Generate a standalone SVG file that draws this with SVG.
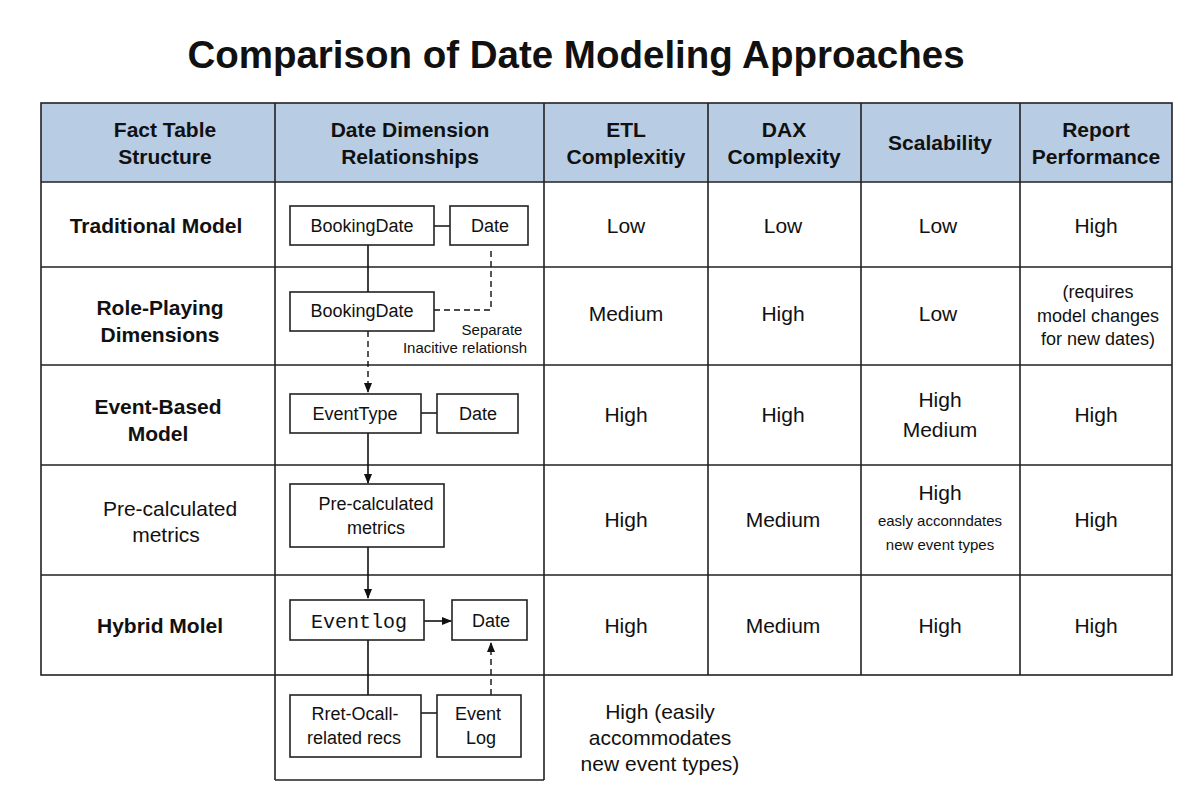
<svg xmlns="http://www.w3.org/2000/svg" width="1200" height="800" viewBox="0 0 1200 800">
<defs>
<marker id="ah" markerWidth="10" markerHeight="10" refX="9" refY="5" orient="auto" markerUnits="userSpaceOnUse"><path d="M0,1 L10,5 L0,9 z" fill="#111"/></marker>
<style>
text{font-family:"Liberation Sans",Arial,sans-serif;fill:#111;text-anchor:middle}
.t{font-size:38.5px;font-weight:bold}
.h{font-size:21px;font-weight:bold}
.rl{font-size:21px;font-weight:bold}
.rn{font-size:21px}
.c{font-size:21px}
.b{font-size:18px}
.s{font-size:15px}
.m{font-family:"Liberation Mono",monospace;font-size:20px}
.g{stroke:#222;stroke-width:1.6;fill:none}
.box{fill:#fff;stroke:#222;stroke-width:1.6}
.ln{stroke:#111;stroke-width:1.6;fill:none}
.d{stroke:#111;stroke-width:1.4;fill:none;stroke-dasharray:6,4}
</style>
</defs>
<rect width="1200" height="800" fill="#fff"/>
<text class="t" x="576" y="68">Comparison of Date Modeling Approaches</text>
<g id="table">
<rect x="41" y="103" width="1131" height="79" fill="#b8cde4"/>
<rect x="41" y="103" width="1131" height="572" class="g"/>
<path class="g" d="M41,182H1172M41,267H1172M41,365H1172M41,465H1172M41,575H1172M275,103V780M544,103V780M708,103V675M861,103V675M1020,103V675M275,780H544"/>
</g>
<g id="headers">
<text class="h" x="165" y="137">Fact Table</text><text class="h" x="165" y="164">Structure</text>
<text class="h" x="410" y="137">Date Dimension</text><text class="h" x="410" y="164">Relationships</text>
<text class="h" x="626" y="137">ETL</text><text class="h" x="626" y="164">Complexitiy</text>
<text class="h" x="784" y="137">DAX</text><text class="h" x="784" y="164">Complexity</text>
<text class="h" x="940" y="150">Scalability</text>
<text class="h" x="1096" y="137">Report</text><text class="h" x="1096" y="164">Performance</text>
</g>
<g id="rowlabels">
<text class="rl" x="156" y="233">Traditional Model</text>
<text class="rl" x="160" y="315">Role-Playing</text><text class="rl" x="160" y="342">Dimensions</text>
<text class="rl" x="158" y="414">Event-Based</text><text class="rl" x="158" y="441">Model</text>
<text class="rn" x="170" y="516">Pre-calculated</text><text class="rn" x="166" y="542">metrics</text>
<text class="rl" x="160" y="633">Hybrid Molel</text>
</g>
<g id="cells">
<text class="c" x="626" y="233">Low</text><text class="c" x="783" y="233">Low</text><text class="c" x="938" y="233">Low</text><text class="c" x="1096" y="233">High</text>
<text class="c" x="626" y="321">Medium</text><text class="c" x="783" y="321">High</text><text class="c" x="938" y="321">Low</text>
<text class="b" x="1098" y="298">(requires</text><text class="b" x="1098" y="322">model changes</text><text class="b" x="1098" y="345">for new dates)</text>
<text class="c" x="626" y="422">High</text><text class="c" x="783" y="422">High</text>
<text class="c" x="940" y="407">High</text><text class="c" x="940" y="437">Medium</text><text class="c" x="1096" y="422">High</text>
<text class="c" x="626" y="527">High</text><text class="c" x="783" y="527">Medium</text>
<text class="c" x="940" y="500">High</text><text class="s" x="940" y="526">easly acconndates</text><text class="s" x="940" y="550">new event types</text>
<text class="c" x="1096" y="527">High</text>
<text class="c" x="626" y="633">High</text><text class="c" x="783" y="633">Medium</text><text class="c" x="940" y="633">High</text><text class="c" x="1096" y="633">High</text>
<text class="c" x="660" y="719">High (easily</text><text class="c" x="660" y="745">accommodates</text><text class="c" x="660" y="771">new event types)</text>
</g>
<g id="connectors">
<path class="ln" d="M434,226H450M368,245V292M421,413H437M421,713H437M368,640V695"/>
<path class="d" d="M434,310H491V247"/>
<path class="d" d="M368,331V392" marker-end="url(#ah)"/>
<path class="ln" d="M368,433V483" marker-end="url(#ah)"/>
<path class="ln" d="M368,547V598" marker-end="url(#ah)"/>
<path class="ln" d="M424,621H451" marker-end="url(#ah)"/>
<path class="d" d="M491,695V643" marker-end="url(#ah)"/>
</g>
<g id="n1"><rect class="box" x="290" y="206" width="144" height="39"/><text class="b" x="362" y="232">BookingDate</text></g>
<g id="n2"><rect class="box" x="450" y="206" width="78" height="39"/><text class="b" x="490" y="232">Date</text></g>
<g id="n3"><rect class="box" x="290" y="292" width="144" height="39"/><text class="b" x="362" y="317">BookingDate</text></g>
<text class="s" x="492" y="335">Separate</text><text class="s" x="465" y="353">Inacitive relationsh</text>
<g id="n4"><rect class="box" x="290" y="394" width="131" height="39"/><text class="b" x="355" y="420">EventType</text></g>
<g id="n5"><rect class="box" x="437" y="394" width="81" height="39"/><text class="b" x="478" y="420">Date</text></g>
<g id="n6"><rect class="box" x="290" y="484" width="154" height="63"/><text class="b" x="376" y="510">Pre-calculated</text><text class="b" x="376" y="534">metrics</text></g>
<g id="n7"><rect class="box" x="290" y="600" width="134" height="40"/><text class="m" x="359" y="628">Eventlog</text></g>
<g id="n8"><rect class="box" x="452" y="600" width="75" height="40"/><text class="b" x="491" y="627">Date</text></g>
<g id="n9"><rect class="box" x="290" y="695" width="131" height="62"/><text class="b" x="355" y="720">Rret-Ocall-</text><text class="b" x="354" y="744">related recs</text></g>
<g id="n10"><rect class="box" x="437" y="695" width="84" height="62"/><text class="b" x="478" y="720">Event</text><text class="b" x="481" y="744">Log</text></g>
</svg>
